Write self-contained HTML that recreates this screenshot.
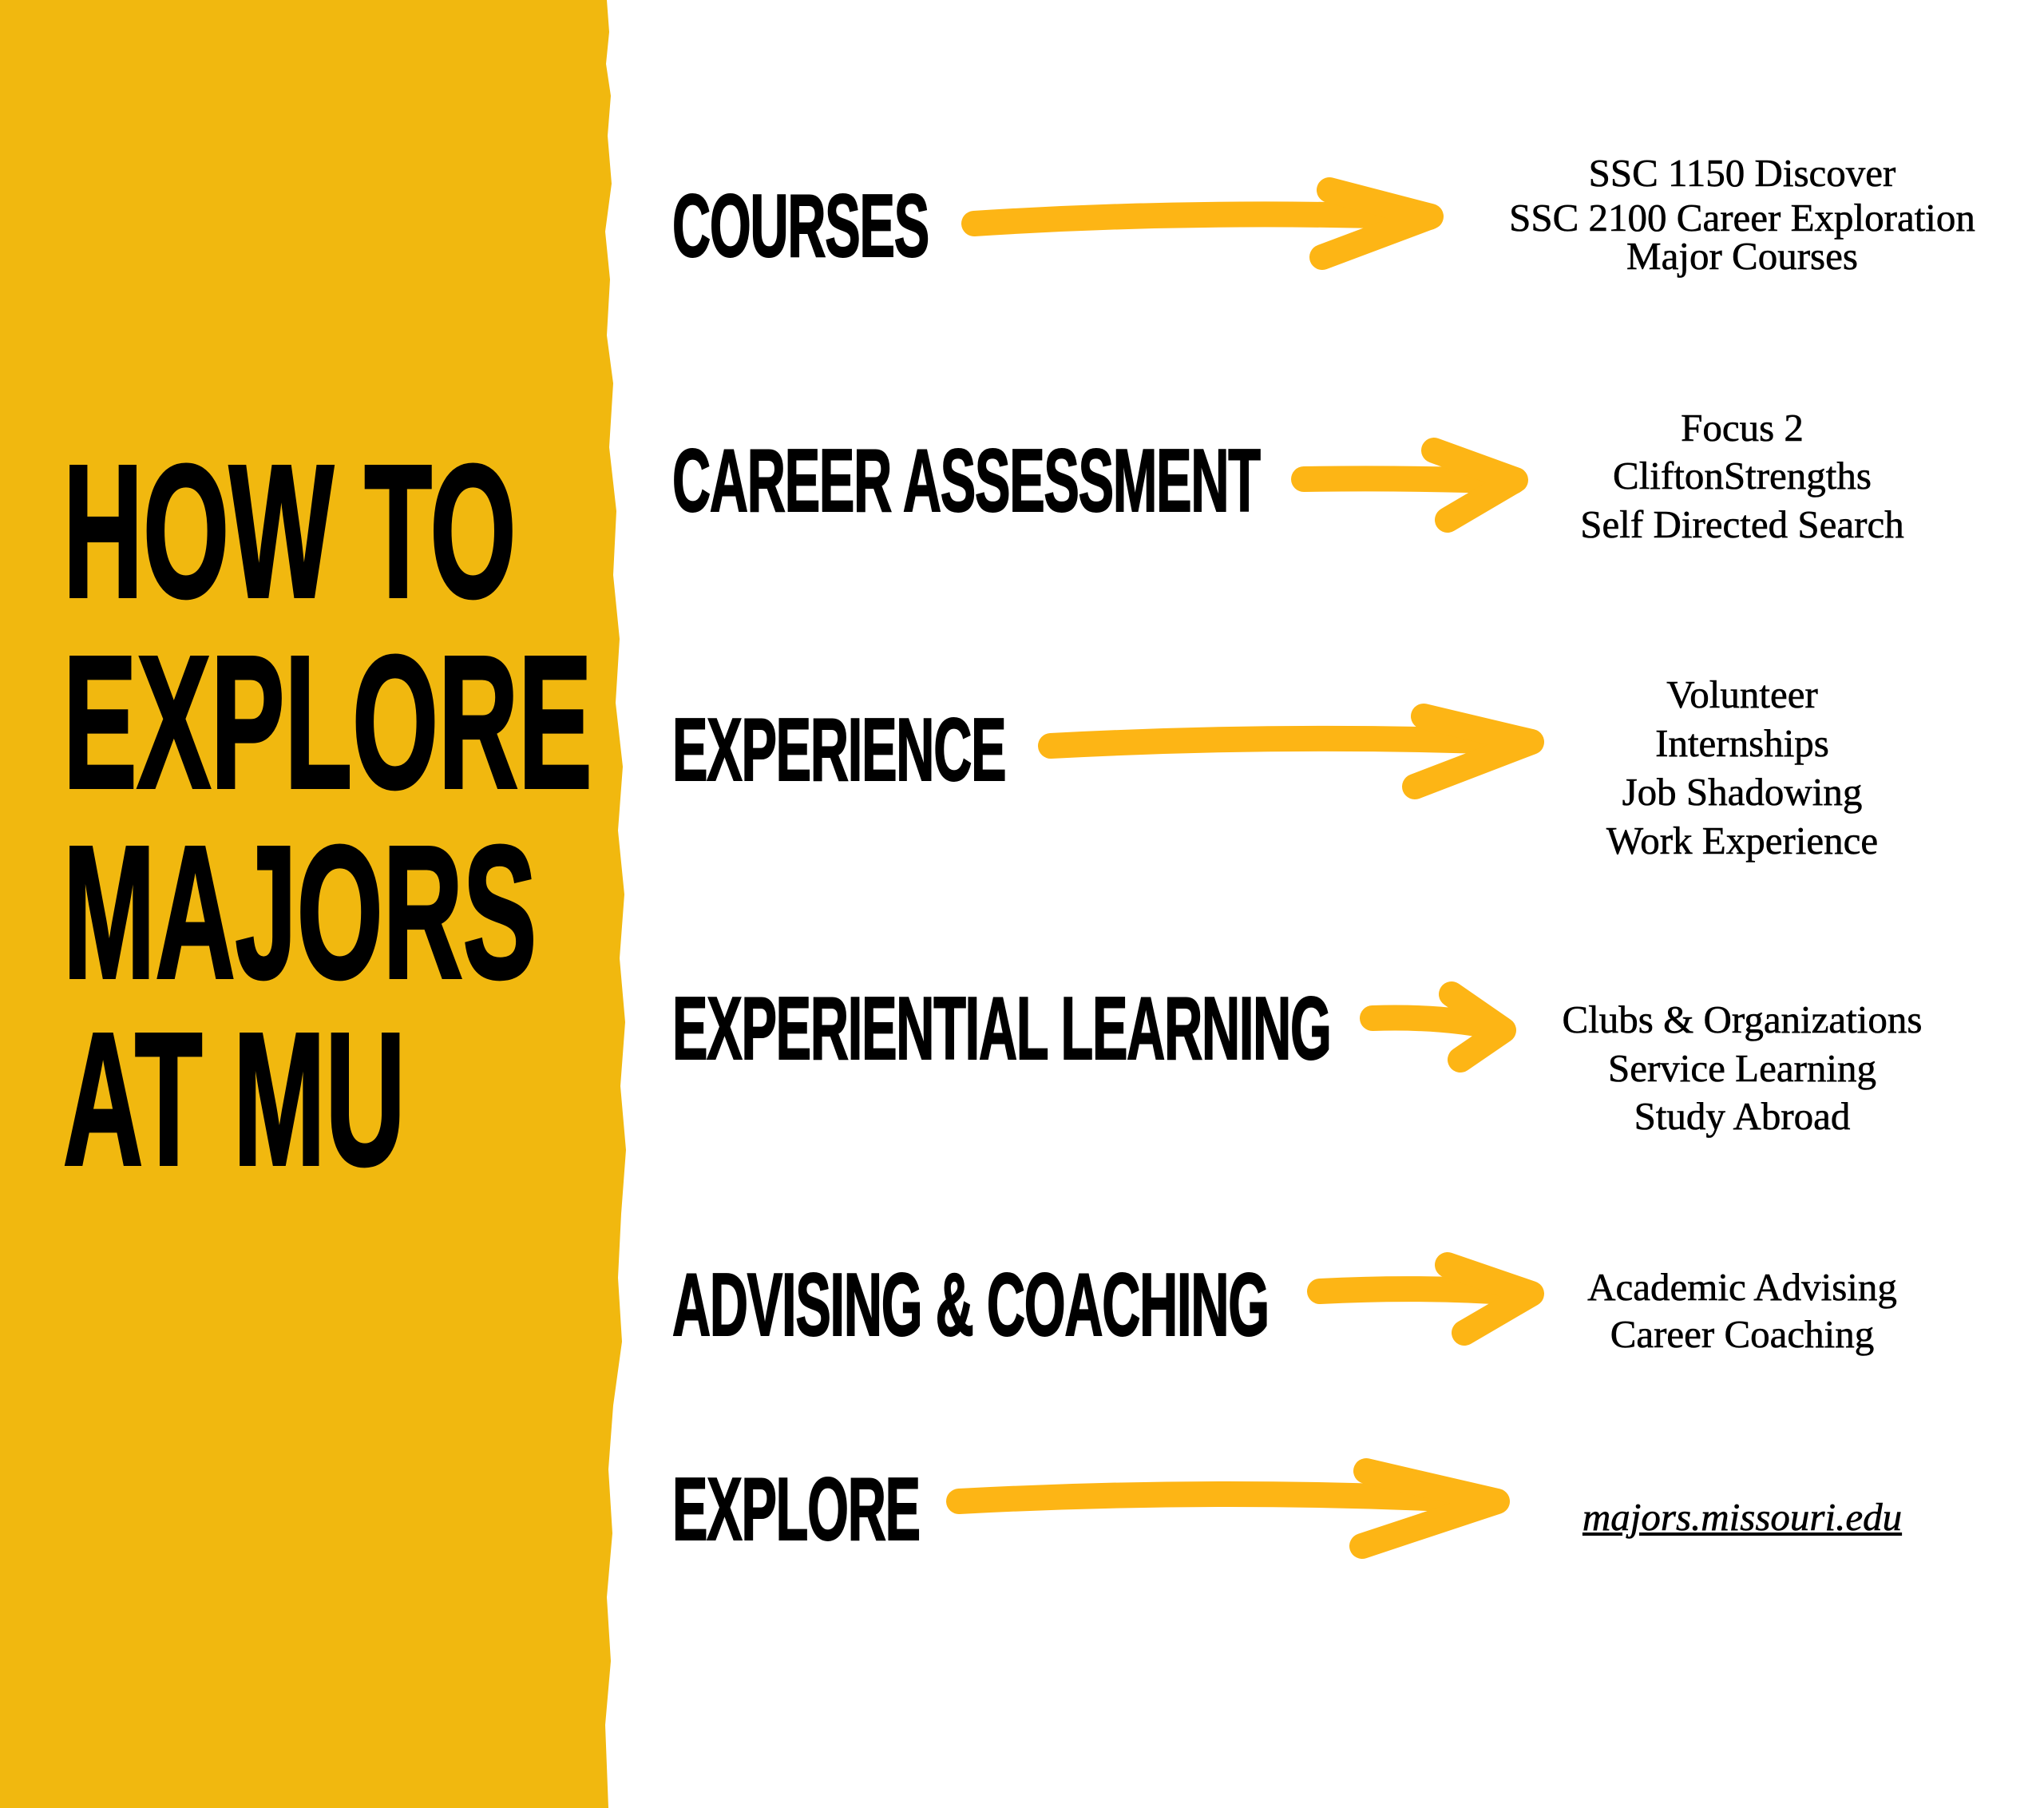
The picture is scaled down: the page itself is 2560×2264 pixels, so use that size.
<!DOCTYPE html>
<html><head><meta charset="utf-8"><style>
html,body{margin:0;padding:0;background:#fff}
#c{position:relative;width:2560px;height:2264px;overflow:hidden;background:#fff}
.t{position:absolute;left:79px;font-family:"Liberation Sans",sans-serif;font-weight:bold;font-size:237px;line-height:1;color:#000;transform-origin:0 0;transform:scaleX(0.585);white-space:nowrap;-webkit-text-stroke:4px #000}
.l{position:absolute;left:842px;font-family:"Liberation Sans",sans-serif;font-weight:bold;font-size:111px;line-height:1;color:#000;transform-origin:0 0;transform:scaleX(0.6);white-space:nowrap;letter-spacing:-2px;-webkit-text-stroke:2px #000}
.r{position:absolute;left:1882px;width:600px;text-align:center;font-family:"Liberation Serif",serif;font-size:49px;line-height:1;color:#000;white-space:nowrap;-webkit-text-stroke:0.6px #000}
</style></head><body><div id="c">
<svg width="2560" height="2264" style="position:absolute;left:0;top:0">
<polygon fill="#F1B80F" points="0,0 760,0 763,40 759,80 765,120 761,170 766,230 758,290 764,350 760,420 768,480 763,560 772,640 768,720 776,800 771,880 780,960 774,1040 782,1120 776,1200 783,1280 777,1360 784,1440 778,1520 774,1600 779,1680 768,1760 762,1840 767,1920 760,2000 765,2080 758,2160 762,2264 0,2264"/>
<g fill="none" stroke="#FDB515" stroke-width="32" stroke-linecap="round" stroke-linejoin="round">
<path d="M1220,280 Q1500,262 1790,272"/><path d="M1665,238 L1792,271 L1656,322"/>
<path d="M1633,600 Q1770,598 1895,603"/><path d="M1796,564 L1898,601 L1813,651"/>
<path d="M1316,934 Q1620,918 1915,930"/><path d="M1783,897 L1918,929 L1772,985"/>
<path d="M1719,1275 Q1810,1272 1880,1288"/><path d="M1818,1245 L1883,1290 L1829,1327"/>
<path d="M1653,1617 Q1790,1610 1915,1620"/><path d="M1813,1584 L1918,1620 L1834,1669"/>
<path d="M1201,1880 Q1540,1862 1872,1880"/><path d="M1711,1842 L1875,1880 L1706,1936"/>
</g>
</svg>
<div class="t" style="top:547px">HOW TO</div>
<div class="t" style="top:786px">EXPLORE</div>
<div class="t" style="top:1024px">MAJORS</div>
<div class="t" style="top:1258px">AT MU</div>
<div class="l" style="top:228px">COURSES</div>
<div class="l" style="top:547px">CAREER ASSESSMENT</div>
<div class="l" style="top:884px">EXPERIENCE</div>
<div class="l" style="top:1233px">EXPERIENTIAL LEARNING</div>
<div class="l" style="top:1579px">ADVISING &amp; COACHING</div>
<div class="l" style="top:1835px">EXPLORE</div>
<div class="r" style="top:192px">SSC 1150 Discover</div>
<div class="r" style="top:248px">SSC 2100 Career Exploration</div>
<div class="r" style="top:296px">Major Courses</div>
<div class="r" style="top:511px">Focus 2</div>
<div class="r" style="top:571px">CliftonStrengths</div>
<div class="r" style="top:632px">Self Directed Search</div>
<div class="r" style="top:845px">Volunteer</div>
<div class="r" style="top:906px">Internships</div>
<div class="r" style="top:967px">Job Shadowing</div>
<div class="r" style="top:1028px">Work Experience</div>
<div class="r" style="top:1252px">Clubs &amp; Organizations</div>
<div class="r" style="top:1313px">Service Learning</div>
<div class="r" style="top:1373px">Study Abroad</div>
<div class="r" style="top:1587px">Academic Advising</div>
<div class="r" style="top:1646px">Career Coaching</div>
<div class="r" style="top:1875px;font-style:italic;text-decoration:underline">majors.missouri.edu</div>
</div></body></html>
